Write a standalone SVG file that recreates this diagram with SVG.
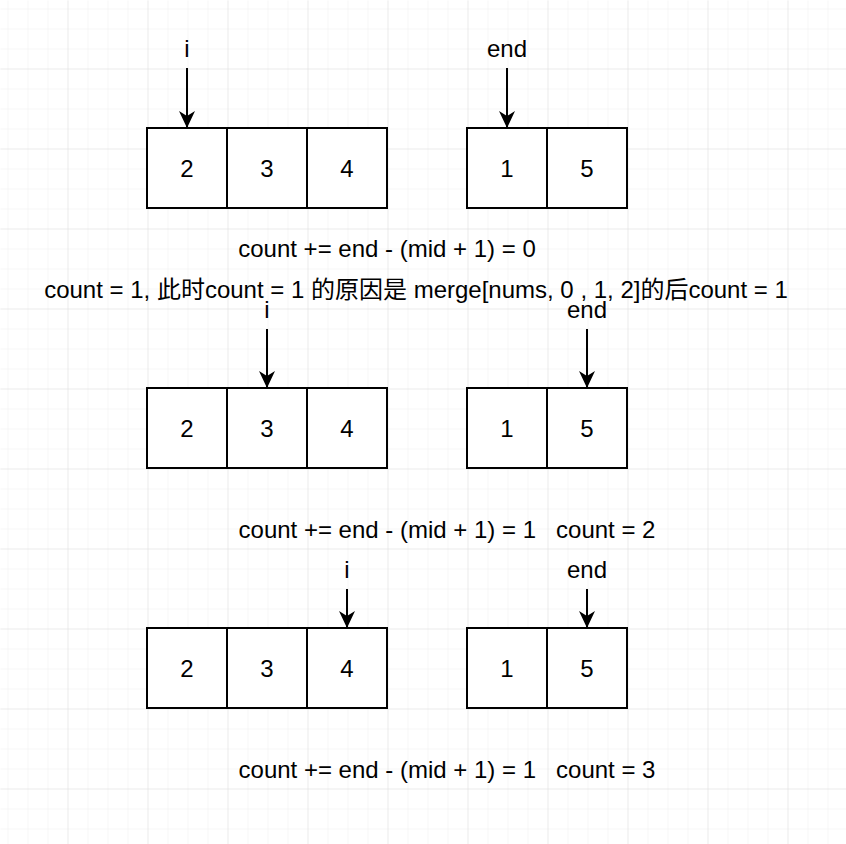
<svg xmlns="http://www.w3.org/2000/svg" width="846" height="844" viewBox="0 0 846 844">
<defs>
<pattern id="minor" x="7" y="8" width="20" height="20" patternUnits="userSpaceOnUse">
<path d="M 0 0 L 20 0 M 0 0 L 0 20" fill="none" stroke="#f0f0f0" stroke-width="1"/>
</pattern>
<pattern id="major" x="67" y="68" width="80" height="80" patternUnits="userSpaceOnUse">
<path d="M 0 0 L 80 0 M 0 0 L 0 80" fill="none" stroke="#e2e2e2" stroke-width="1"/>
</pattern>
<marker id="arr" markerUnits="userSpaceOnUse" markerWidth="20" markerHeight="20" viewBox="-18 -10 20 20" refX="0" refY="0" orient="auto">
<path d="M 0 0 L -17 -8 L -12 0 L -17 8 Z" fill="#000"/>
</marker>
</defs>
<style>
.cell{fill:#fff;stroke:#000;stroke-width:2}
.t{font-family:"Liberation Sans","Noto Sans CJK SC",Arial,sans-serif;font-size:24px;fill:#000;text-anchor:middle;dominant-baseline:central}
.lbl{font-family:"Liberation Sans","Noto Sans CJK SC",Arial,sans-serif;font-size:24px;fill:#000;text-anchor:middle;dominant-baseline:central}
.conn{stroke:#000;stroke-width:2;fill:none;marker-end:url(#arr)}
</style>
<rect width="846" height="844" fill="#fff"/>
<rect width="846" height="844" fill="url(#minor)" transform="translate(0.5,0.5)"/>
<rect width="846" height="844" fill="url(#major)" transform="translate(0.5,0.5)"/>

<g id="row1-left">
<rect class="cell" x="147" y="128" width="80" height="80"/><text class="t" x="187" y="168">2</text>
<rect class="cell" x="227" y="128" width="80" height="80"/><text class="t" x="267" y="168">3</text>
<rect class="cell" x="307" y="128" width="80" height="80"/><text class="t" x="347" y="168">4</text>
</g>
<g id="row1-right">
<rect class="cell" x="467" y="128" width="80" height="80"/><text class="t" x="507" y="168">1</text>
<rect class="cell" x="547" y="128" width="80" height="80"/><text class="t" x="587" y="168">5</text>
</g>
<g id="row2-left">
<rect class="cell" x="147" y="388" width="80" height="80"/><text class="t" x="187" y="428">2</text>
<rect class="cell" x="227" y="388" width="80" height="80"/><text class="t" x="267" y="428">3</text>
<rect class="cell" x="307" y="388" width="80" height="80"/><text class="t" x="347" y="428">4</text>
</g>
<g id="row2-right">
<rect class="cell" x="467" y="388" width="80" height="80"/><text class="t" x="507" y="428">1</text>
<rect class="cell" x="547" y="388" width="80" height="80"/><text class="t" x="587" y="428">5</text>
</g>
<g id="row3-left">
<rect class="cell" x="147" y="628" width="80" height="80"/><text class="t" x="187" y="668">2</text>
<rect class="cell" x="227" y="628" width="80" height="80"/><text class="t" x="267" y="668">3</text>
<rect class="cell" x="307" y="628" width="80" height="80"/><text class="t" x="347" y="668">4</text>
</g>
<g id="row3-right">
<rect class="cell" x="467" y="628" width="80" height="80"/><text class="t" x="507" y="668">1</text>
<rect class="cell" x="547" y="628" width="80" height="80"/><text class="t" x="587" y="668">5</text>
</g>

<g id="labels">
<text class="lbl" x="187" y="48">i</text>
<text class="lbl" x="507" y="48">end</text>
<text class="lbl" x="387" y="248">count += end - (mid + 1) = 0</text>
<text class="lbl" x="416" y="289">count = 1, 此时count = 1 的原因是 merge[nums, 0 , 1, 2]的后count = 1</text>
<text class="lbl" x="267" y="309">i</text>
<text class="lbl" x="587" y="309">end</text>
<text class="lbl" x="447" y="529" xml:space="preserve">count += end - (mid + 1) = 1   count = 2</text>
<text class="lbl" x="347" y="569">i</text>
<text class="lbl" x="587" y="569">end</text>
<text class="lbl" x="447" y="769" xml:space="preserve">count += end - (mid + 1) = 1   count = 3</text>
</g>

<g id="connectors">
<line class="conn" x1="187" y1="68" x2="187" y2="128"/>
<line class="conn" x1="507" y1="68" x2="507" y2="128"/>
<line class="conn" x1="267" y1="329" x2="267" y2="388"/>
<line class="conn" x1="587" y1="329" x2="587" y2="388"/>
<line class="conn" x1="347" y1="589" x2="347" y2="628"/>
<line class="conn" x1="587" y1="589" x2="587" y2="628"/>
</g>
</svg>
